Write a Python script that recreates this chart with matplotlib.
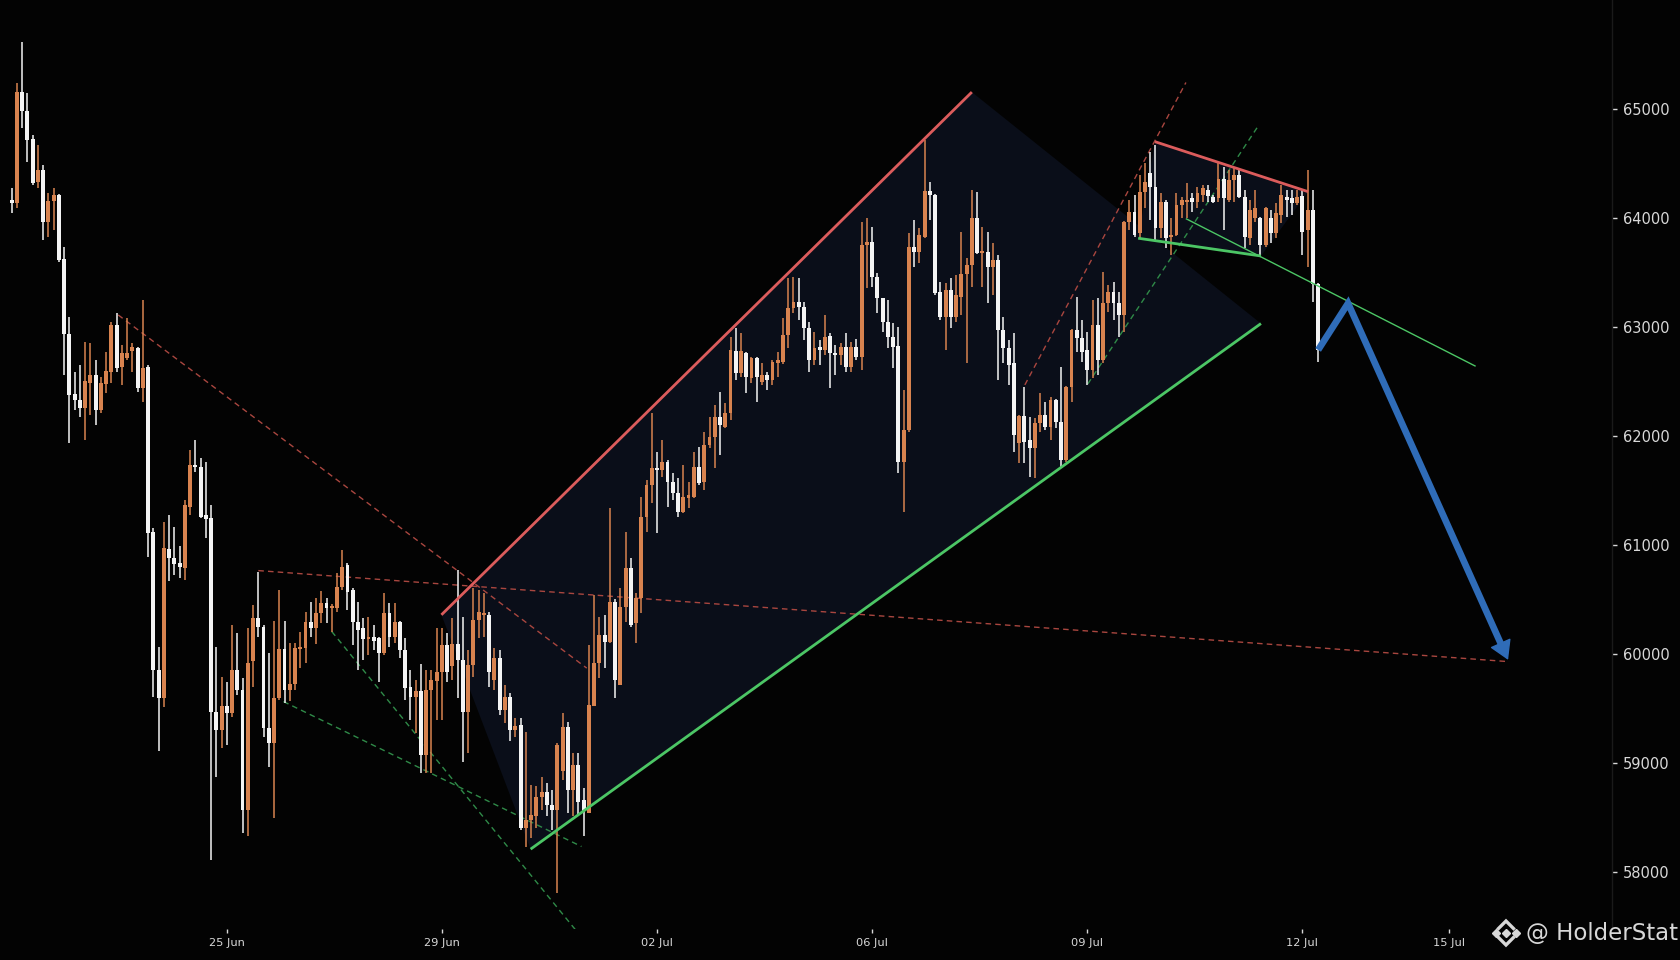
import matplotlib
matplotlib.use("Agg")
import matplotlib.pyplot as plt
from matplotlib.patches import Polygon
from matplotlib.lines import Line2D
import numpy as np

# ---------------- data (candle index, price) ----------------
opens = [64165, 64138, 65156, 64977, 64721, 64334, 64440, 63966, 64156, 64211,
         63621, 62936, 62383, 62330, 62257, 62489, 62559, 62238, 62477, 62590,
         63018, 62630, 62719, 62775, 62807, 62435, 62630, 61122, 59853, 59596,
         60960, 60878, 60838, 60786, 61351, 61734, 61713, 61275, 61245, 59471,
         59303, 59517, 59456, 59853, 59670, 58569, 59930, 60327, 60251, 59318,
         59186, 59594, 60043, 59664, 59722, 60043, 60052, 60296, 60235, 60373,
         60465, 60419, 60419, 60617, 60816, 60587, 60296, 60235, 60135, 60159,
         60144, 60006, 60379, 60159, 60296, 60037, 59700, 59608, 59663, 59073,
         59670, 59755, 59838, 60083, 59884, 60092, 59945, 59471, 59899, 60312,
         60358, 60358, 59761, 59963, 59486, 59608, 59303, 59349, 58401, 58477,
         58509, 58687, 58728, 58615, 58569, 58921, 59333, 58752, 58982, 58661,
         58539, 59517, 59915, 60174, 60113, 60480, 59716, 60434, 60786, 60281,
         60511, 61260, 61550, 61703, 61688, 61764, 61581, 61474, 61306, 61428,
         61443, 61718, 61581, 61917, 61994, 62177, 62086, 62208, 62775, 62577,
         62760, 62529, 62713, 62499, 62560, 62514, 62667, 62682, 62926, 63171,
         63232, 63187, 62987, 62697, 62820, 62790, 62918, 62758, 62743, 62812,
         62636, 62820, 62728, 63752, 63776, 63461, 63263, 63049, 62912, 62826,
         61764, 62055, 63737, 63691, 63829, 64250, 64211, 63324, 63094, 63339,
         63094, 63278, 63486, 63569, 63997, 63676, 63691, 63553, 63615, 62972,
         62805, 62667, 61933, 62183, 61963, 61887, 62117, 62193, 62086, 62330,
         62131, 61780, 62453, 62972, 62902, 62789, 62605, 63018, 62697, 63217,
         63324, 63217, 63110, 63966, 64058, 63859, 64241, 64410, 64288, 63905,
         64150, 63829, 63844, 64119, 64150, 64180, 64150, 64211, 64257, 64196,
         64180, 64355, 64165, 64349, 64395, 64196, 63813, 64000, 63997, 63752,
         63997, 63859, 64028, 64196, 64180, 64135, 64202, 63890, 64073, 63394]
highs = [64275, 65236, 65617, 65145, 64760, 64670, 64486, 64229, 64275, 64220,
         63737, 63094, 62590, 62651, 62866, 62853, 62697, 62544, 62773, 63049,
         63128, 62835, 63082, 62853, 62820, 63248, 62650, 61156, 60067, 61213,
         61275, 61168, 60991, 61413, 61872, 61963, 61798, 61764, 61367, 60067,
         59792, 59746, 60266, 60193, 59780, 60239, 60450, 60755, 60266, 60009,
         60297, 60587, 60297, 60104, 60101, 60205, 60388, 60479, 60513, 60581,
         60513, 60459, 60743, 60954, 60835, 60605, 60480, 60327, 60342, 60266,
         60159, 60559, 60468, 60468, 60300, 60147, 59853, 59761, 59908, 59853,
         59853, 60235, 60235, 60190, 60327, 60771, 60342, 60037, 60603, 60587,
         60560, 60388, 60052, 60037, 59716, 59642, 59413, 59410, 59287, 58798,
         58783, 58874, 58813, 58752, 59181, 59456, 59379, 59089, 59089, 58768,
         60083, 60541, 60342, 60358, 61337, 60500, 60600, 61122, 60878, 60557,
         61443, 61596, 62208, 61856, 61963, 61780, 61658, 61612, 61734, 61581,
         61856, 61902, 62040, 62177, 62284, 62406, 62299, 62911, 62987, 62941,
         62770, 62728, 62720, 62667, 62590, 62697, 62774, 63080, 63447, 63461,
         63447, 63232, 63049, 62958, 62881, 63110, 62941, 62835, 62850, 62941,
         62866, 62887, 63966, 63996, 63921, 63492, 63270, 63248, 63033, 63003,
         62422, 63859, 63981, 63905, 64716, 64334, 64220, 63416, 63401, 63447,
         63477, 63874, 63630, 64257, 64241, 63921, 63874, 63768, 63660, 63094,
         62881, 62942, 62193, 62453, 62177, 62162, 62391, 62315, 62361, 62340,
         62636, 62460, 62980, 63278, 63064, 62958, 63248, 63263, 63508, 63385,
         63416, 63324, 63975, 64165, 64211, 64394, 64502, 64609, 64670, 64227,
         64165, 63997, 64227, 64190, 64318, 64227, 64288, 64303, 64303, 64211,
         64502, 64471, 64440, 64471, 64440, 64257, 64165, 64257, 64013, 64104,
         64073, 64135, 64303, 64257, 64257, 64257, 64257, 64440, 64257, 63400]
lows = [64046, 64092, 64826, 64518, 64303, 64275, 63798, 63828, 63890, 63600,
        62559, 61936, 62238, 62177, 61963, 62192, 62101, 62211, 62394, 62486,
        62590, 62468, 62697, 62590, 62406, 62312, 60890, 59608, 59104, 59514,
        60664, 60725, 60697, 60679, 61275, 61672, 61248, 61064, 58110, 58874,
        59138, 59165, 59425, 59624, 58358, 58324, 59700, 60159, 59241, 58966,
        58493, 59578, 59550, 59563, 59670, 59872, 59917, 60159, 60092, 60284,
        60284, 60202, 60388, 60587, 60404, 60083, 59853, 59945, 59991, 60037,
        59746, 59991, 60067, 60098, 59960, 59578, 59394, 59275, 58906, 58908,
        58908, 59394, 59394, 59746, 59761, 59596, 59012, 59092, 59792, 60150,
        60159, 59700, 59670, 59440, 59367, 59196, 59241, 58385, 58232, 58309,
        58401, 58569, 58508, 58385, 57805, 58844, 58539, 58508, 58508, 58324,
        58539, 59517, 59777, 59869, 60098, 59596, 59716, 60296, 60251, 60098,
        60373, 61122, 61382, 61107, 61627, 61352, 61413, 61260, 61291, 61337,
        61428, 61550, 61505, 61887, 61704, 61826, 62070, 62147, 62514, 62544,
        62391, 62483, 62315, 62468, 62422, 62468, 62544, 62660, 62805, 63125,
        63064, 62881, 62590, 62651, 62651, 62743, 62437, 62560, 62651, 62590,
        62590, 62697, 62605, 63355, 63370, 63125, 62958, 62805, 62621, 61658,
        61306, 62040, 63553, 63584, 63813, 63981, 63294, 63064, 62789, 62988,
        63049, 63110, 62667, 63370, 63670, 63370, 63217, 63294, 62514, 62667,
        62468, 61856, 61749, 61749, 61627, 61612, 62040, 62055, 61963, 62070,
        61719, 61765, 62315, 62774, 62682, 62468, 62529, 62560, 62667, 63140,
        63064, 62911, 62957, 63890, 63829, 63813, 64089, 63981, 63798, 63813,
        63722, 63660, 63830, 64000, 63997, 64058, 64089, 64150, 64150, 64135,
        64150, 63890, 64150, 64150, 64180, 63722, 63752, 63966, 63660, 63737,
        63768, 63813, 63951, 64013, 64028, 64120, 63660, 63553, 63229, 62682]
closes = [64138, 65156, 64977, 64715, 64324, 64440, 63966, 64156, 64211, 63615,
          62936, 62376, 62330, 62257, 62500, 62559, 62238, 62483, 62599, 63018,
          62621, 62758, 62758, 62813, 62435, 62627, 61110, 59853, 59596, 60969,
          60878, 60825, 60795, 61367, 61734, 61713, 61260, 61239, 59471, 59303,
          59517, 59456, 59853, 59670, 58569, 59915, 60327, 60251, 59318, 59186,
          59594, 60043, 59664, 59722, 60052, 60067, 60296, 60235, 60379, 60465,
          60419, 60438, 60617, 60801, 60572, 60296, 60220, 60135, 60159, 60122,
          60006, 60379, 60159, 60296, 60037, 59685, 59608, 59663, 59073, 59670,
          59761, 59838, 60083, 59838, 60092, 59945, 59471, 59899, 60312, 60380,
          60375, 59838, 59963, 59486, 59608, 59303, 59340, 58401, 58477, 58523,
          58691, 58728, 58615, 58569, 59165, 59333, 58752, 58982, 58645, 58555,
          59532, 59915, 60174, 60113, 60480, 59761, 60434, 60786, 60266, 60511,
          61260, 61550, 61703, 61688, 61764, 61581, 61474, 61306, 61443, 61459,
          61718, 61566, 61917, 61994, 62177, 62101, 62208, 62789, 62577, 62775,
          62544, 62713, 62544, 62560, 62514, 62682, 62697, 62926, 63171, 63232,
          63187, 62987, 62697, 62805, 62790, 62912, 62758, 62743, 62820, 62636,
          62820, 62728, 63752, 63776, 63461, 63263, 63049, 62912, 62820, 61764,
          62055, 63737, 63691, 63844, 64250, 64211, 63309, 63094, 63339, 63094,
          63293, 63486, 63569, 63997, 63676, 63700, 63553, 63615, 62972, 62805,
          62651, 62009, 62183, 61948, 61887, 62117, 62193, 62086, 62330, 62131,
          61780, 62453, 62972, 62896, 62774, 62605, 63018, 62697, 63217, 63324,
          63217, 63110, 63966, 64058, 63844, 64241, 64333, 64288, 63905, 64150,
          63813, 63844, 64119, 64165, 64165, 64150, 64227, 64272, 64202, 64150,
          64355, 64180, 64349, 64395, 64196, 63829, 64073, 64089, 63752, 64089,
          63859, 64043, 64211, 64165, 64135, 64196, 63874, 64073, 63394, 62789]

x_tick_pos = [41, 82, 123, 164, 205, 246, 274]
x_tick_labels = ["25 Jun", "29 Jun", "02 Jul", "06 Jul", "09 Jul", "12 Jul", "15 Jul"]
price_ticks = [58000, 59000, 60000, 61000, 62000, 63000, 64000, 65000]

# drawn annotations: (candle index, price)
channel_top_x, channel_top_y = [81.9, 183.0], [60358, 65155]
channel_bot_x, channel_bot_y = [98.9, 238.1], [58208, 63031]
wedge_top_x, wedge_top_y = [217.9, 247.1], [64700, 64241]
wedge_bot_x, wedge_bot_y = [214.7, 238.1], [63814, 63651]
break_x, break_y = [223.9, 278.9], [63991, 62642]
red_dash1_x, red_dash1_y = [20.3, 109.6], [63110, 59869]
red_dash2_x, red_dash2_y = [47.0, 285.2], [60764, 59929]
red_dash3_x, red_dash3_y = [193.1, 223.8], [62468, 65243]
green_dash1_x, green_dash1_y = [61.0, 112.0], [60205, 57200]
green_dash2_x, green_dash2_y = [51.8, 108.6], [59562, 58232]
green_dash3_x, green_dash3_y = [205.1, 237.7], [62477, 64853]
arrow_x, arrow_y = [249.0, 254.7, 285.2], [62789, 63217, 59945]

# ---------------- style ----------------
BG = "#030303"
FILL = "#0a0e19"
ORANGE = "#d8834f"
WHITE = "#f4f4f4"
RED = "#dc5c5c"
GREEN = "#4cc665"
RED_D = "#a9463f"
GREEN_D = "#2f8a48"
BLUE = "#2f6cb8"
TXT = "#d8d8d8"

fig = plt.figure(figsize=(16.8, 9.6), dpi=100, facecolor=BG)
ax = fig.add_axes([0.0, 0.0325, 0.9595, 0.9675])
ax.set_facecolor(BG)

# channel and wedge fills
ax.add_patch(Polygon([(channel_top_x[0], channel_top_y[0]), (channel_top_x[1], channel_top_y[1]),
                      (channel_bot_x[1], channel_bot_y[1]), (channel_bot_x[0], channel_bot_y[0])],
                     closed=True, facecolor=FILL, edgecolor="none", zorder=1))
ax.add_patch(Polygon([(wedge_top_x[0], wedge_top_y[0]), (wedge_top_x[1], wedge_top_y[1]),
                      (wedge_bot_x[1], wedge_bot_y[1]), (wedge_bot_x[0], wedge_bot_y[0])],
                     closed=True, facecolor=FILL, edgecolor="none", zorder=1))

# dashed helper lines
dash = (0, (4, 3))
for xs, ys, col in [(red_dash1_x, red_dash1_y, RED_D), (red_dash2_x, red_dash2_y, RED_D),
                    (red_dash3_x, red_dash3_y, RED_D), (green_dash1_x, green_dash1_y, GREEN_D),
                    (green_dash2_x, green_dash2_y, GREEN_D), (green_dash3_x, green_dash3_y, GREEN_D)]:
    ax.plot(xs, ys, color=col, lw=1.0, linestyle=dash, zorder=2)

# candles
o = np.array(opens, float)
c = np.array(closes, float)
h = np.array(highs, float)
l = np.array(lows, float)
idx = np.arange(len(o))
up = c > o
cols = np.where(up, ORANGE, WHITE)
ax.vlines(idx, l, h, colors=cols, lw=1.1, zorder=3)
body_b = np.minimum(o, c)
body_h = np.maximum(np.abs(c - o), 12)
ax.bar(idx, body_h, bottom=body_b, width=0.74, color=cols, edgecolor="none", zorder=4)

# solid pattern lines
ax.plot(channel_top_x, channel_top_y, color=RED, lw=2.0, zorder=5, solid_capstyle="butt")
ax.plot(channel_bot_x, channel_bot_y, color=GREEN, lw=2.0, zorder=5, solid_capstyle="butt")
ax.plot(wedge_top_x, wedge_top_y, color=RED, lw=2.0, zorder=5, solid_capstyle="butt")
ax.plot(wedge_bot_x, wedge_bot_y, color=GREEN, lw=2.0, zorder=5, solid_capstyle="butt")
ax.plot(break_x, break_y, color=GREEN, lw=1.0, zorder=5)

# blue projection arrow
ax_arr = np.array(arrow_x)
ay_arr = np.array(arrow_y)
frac = 0.955
bx = ax_arr[1] + frac * (ax_arr[2] - ax_arr[1])
by = ay_arr[1] + frac * (ay_arr[2] - ay_arr[1])
ax.plot([ax_arr[0], ax_arr[1], bx], [ay_arr[0], ay_arr[1], by], color=BLUE, lw=4.8,
        solid_joinstyle="miter", solid_capstyle="butt", zorder=6)
hx = ax_arr[1] + 0.93 * (ax_arr[2] - ax_arr[1])
hy = ay_arr[1] + 0.93 * (ay_arr[2] - ay_arr[1])
ax.annotate("", xy=(ax_arr[2], ay_arr[2]), xytext=(hx, hy),
            arrowprops=dict(arrowstyle="-|>,head_length=1.0,head_width=0.6", color=BLUE,
                            lw=1, shrinkA=0, shrinkB=0, mutation_scale=12), zorder=6)

# axes
ax.set_xlim(-2.23, 305.0)
ax.set_ylim(57477, 66000)
for s in ["left", "top", "bottom"]:
    ax.spines[s].set_visible(False)
ax.spines["right"].set_color("#1a1a1a")
ax.spines["right"].set_linewidth(1.0)
ax.yaxis.tick_right()
ax.set_yticks(price_ticks)
ax.set_yticklabels([str(p) for p in price_ticks])
ax.set_xticks(x_tick_pos)
ax.set_xticklabels(x_tick_labels)
ax.tick_params(axis="y", colors=TXT, labelsize=10.5, length=3.6, width=1, pad=4.3)
ax.tick_params(axis="x", colors=TXT, labelsize=8.2, length=3, width=1, pad=3.5)

# watermark (logo built from simple marks + text)
def fx(px):
    return px / 1680.0

def fy(py):
    return 1.0 - py / 960.0

lx, ly = 1506.0, 933.0
WM = "#d8d8d8"
fig.add_artist(Line2D([fx(lx)], [fy(ly)], marker="D", markersize=4.2, markerfacecolor=WM,
                      markeredgecolor=WM, transform=fig.transFigure))
for ox in (-10.0, 10.0):
    fig.add_artist(Line2D([fx(lx + ox)], [fy(ly)], marker="D", markersize=3.6, markerfacecolor=WM,
                          markeredgecolor=WM, transform=fig.transFigure))
for sgn in (-1.0, 1.0):
    fig.add_artist(Line2D([fx(lx - 7.5), fx(lx), fx(lx + 7.5)],
                          [fy(ly + sgn * 4.5), fy(ly + sgn * 12.0), fy(ly + sgn * 4.5)],
                          color=WM, lw=2.4, solid_joinstyle="miter", transform=fig.transFigure))
fig.text(fx(1526), fy(ly), "@ HolderStat", color=WM, fontsize=16.5, va="center", ha="left")

fig.savefig("out.png", dpi=100, facecolor=BG)
